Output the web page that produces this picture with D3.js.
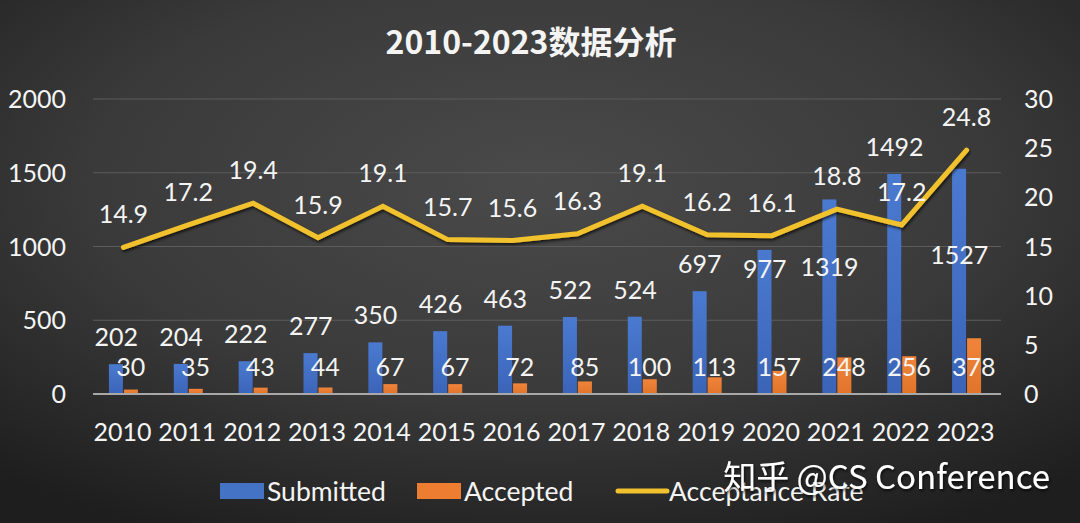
<!DOCTYPE html>
<html>
<meta charset="utf-8">
<style>
  body {
    margin: 0;
    padding: 0;
    background-color: #2b2b2b;
    overflow: hidden;
  }
  text {
    font-family: Lato, "Noto Sans", sans-serif;
    fill: #f4f4f4;
  }
  .title {
    font-family: "Noto Sans CJK SC", sans-serif;
    font-size: 32px;
    font-weight: 700;
  }
  .axis-label { font-size: 25px; }
  .data-label { font-size: 25px; }
  .legend-label { font-size: 26.5px; }
  .mark {
    font-family: "Noto Sans CJK SC", sans-serif;
    font-size: 33px;
    fill: #ffffff;
  }
</style>
<body>

<script src="https://d3js.org/d3.v7.min.js"></script>

<div id="chart"></div>

<script>

// chart data
var years = ["2010","2011","2012","2013","2014","2015","2016","2017","2018","2019","2020","2021","2022","2023"];
var submitted = [202, 204, 222, 277, 350, 426, 463, 522, 524, 697, 977, 1319, 1492, 1527];
var accepted = [30, 35, 43, 44, 67, 67, 72, 85, 100, 113, 157, 248, 256, 378];
var rate = [14.9, 17.2, 19.4, 15.9, 19.1, 15.7, 15.6, 16.3, 19.1, 16.2, 16.1, 18.8, 17.2, 24.8];
var leftTicks = [0, 500, 1000, 1500, 2000];
var rightTicks = [0, 5, 10, 15, 20, 25, 30];
var seriesNames = ["Submitted", "Accepted", "Acceptance Rate"];
var titleText = "2010-2023数据分析";

var W = 1080, H = 523;
var plot = {left: 93, right: 1001, top: 99, bottom: 394};

var svg = d3.select("#chart")
  .append("svg")
    .attr("width", W)
    .attr("height", H);

// background: dark grey with a lighter middle
var defs = svg.append("defs");
var bg = defs.append("radialGradient")
    .attr("id", "bg")
    .attr("cx", "0.5").attr("cy", "0.35").attr("r", "0.75");
bg.append("stop").attr("offset", "0%").attr("stop-color", "#4a4a4a");
bg.append("stop").attr("offset", "55%").attr("stop-color", "#3a3a3a");
bg.append("stop").attr("offset", "100%").attr("stop-color", "#1e1e1e");

var shadow = defs.append("filter").attr("id", "shadow")
    .attr("x", "-10%").attr("y", "-10%").attr("width", "120%").attr("height", "130%");
shadow.append("feDropShadow")
    .attr("dx", 1).attr("dy", 2).attr("stdDeviation", 1.5)
    .attr("flood-color", "#000").attr("flood-opacity", 0.7);

svg.append("rect")
    .attr("width", W).attr("height", H)
    .attr("fill", "url(#bg)");

// scales
var x = d3.scaleBand()
    .domain(years)
    .range([plot.left, plot.right]);

var y = d3.scaleLinear()
    .domain([0, 2000])
    .range([plot.bottom, plot.top]);

var yR = d3.scaleLinear()
    .domain([0, 30])
    .range([plot.bottom, plot.top]);

// two bars per year, 14px each, centred a little left of the band centre
var barW = 14.5;
var x1 = d3.scaleBand()
    .domain(["sub", "acc"])
    .range([x.bandwidth() / 2 - barW - 2, x.bandwidth() / 2 + barW - 2]);

// gridlines
svg.append("g")
  .selectAll("line")
  .data(leftTicks.slice(1))
  .enter().append("line")
    .attr("x1", plot.left).attr("x2", plot.right)
    .attr("y1", function(d) { return y(d); })
    .attr("y2", function(d) { return y(d); })
    .attr("stroke", "#5c5c5c")
    .attr("stroke-width", 1.2);

// left axis
svg.append("g")
  .selectAll("text")
  .data(leftTicks)
  .enter().append("text")
    .attr("class", "axis-label")
    .attr("x", 66)
    .attr("y", function(d) { return y(d) + 9; })
    .attr("text-anchor", "end")
    .text(function(d) { return d; });

// right axis
svg.append("g")
  .selectAll("text")
  .data(rightTicks)
  .enter().append("text")
    .attr("class", "axis-label")
    .attr("x", 1024)
    .attr("y", function(d) { return yR(d) + 9; })
    .attr("text-anchor", "start")
    .text(function(d) { return d; });

// x labels
svg.append("g")
  .selectAll("text")
  .data(years)
  .enter().append("text")
    .attr("class", "axis-label")
    .attr("x", function(d) { return x(d) + x.bandwidth() / 2 - 3; })
    .attr("y", 441)
    .attr("text-anchor", "middle")
    .text(function(d) { return d; });

// bars
var blueGrad = defs.append("linearGradient").attr("id", "blue")
    .attr("x1", 0).attr("y1", 0).attr("x2", 0).attr("y2", 1);
blueGrad.append("stop").attr("offset", "0%").attr("stop-color", "#4a7ad0");
blueGrad.append("stop").attr("offset", "100%").attr("stop-color", "#3b64b8");

var orangeGrad = defs.append("linearGradient").attr("id", "orange")
    .attr("x1", 0).attr("y1", 0).attr("x2", 0).attr("y2", 1);
orangeGrad.append("stop").attr("offset", "0%").attr("stop-color", "#f0843a");
orangeGrad.append("stop").attr("offset", "100%").attr("stop-color", "#e0742a");

var groups = svg.append("g")
  .selectAll("g")
  .data(years)
  .enter().append("g")
    .attr("transform", function(d) { return "translate(" + x(d) + ",0)"; });

groups.append("rect")
    .attr("x", x1("sub"))
    .attr("width", x1.bandwidth() - 0.5)
    .attr("y", function(d, i) { return y(submitted[i]); })
    .attr("height", function(d, i) { return y(0) - y(submitted[i]); })
    .attr("fill", "url(#blue)");

groups.append("rect")
    .attr("x", x1("acc") + 0.5)
    .attr("width", x1.bandwidth() - 0.5)
    .attr("y", function(d, i) { return y(accepted[i]); })
    .attr("height", function(d, i) { return y(0) - y(accepted[i]); })
    .attr("fill", "url(#orange)");

// zero baseline
svg.append("line")
    .attr("x1", plot.left).attr("x2", plot.right)
    .attr("y1", y(0)).attr("y2", y(0))
    .attr("stroke", "#a8a8a8")
    .attr("stroke-width", 2);

// submitted labels, a few pushed below the line by hand
var subDrop = {"2020": 46, "2021": 95, "2023": 113};
groups.append("text")
    .attr("class", "data-label")
    .attr("x", x1("sub") + x1.bandwidth() / 2)
    .attr("y", function(d, i) { return y(submitted[i]) - 18 + (subDrop[d] || 0); })
    .attr("text-anchor", "middle")
    .text(function(d, i) { return submitted[i]; });

// accepted labels sit at a fixed height
groups.append("text")
    .attr("class", "data-label")
    .attr("x", x1("acc") + x1.bandwidth() / 2)
    .attr("y", y(0) - 18)
    .attr("text-anchor", "middle")
    .text(function(d, i) { return accepted[i]; });

// acceptance rate line
var line = d3.line()
    .x(function(d, i) { return x(years[i]) + x.bandwidth() / 2 - 2; })
    .y(function(d) { return yR(d); });

svg.append("path")
    .datum(rate)
    .attr("d", line)
    .attr("fill", "none")
    .attr("stroke", "#f2c12e")
    .attr("stroke-width", 5)
    .attr("stroke-linejoin", "miter")
    .attr("stroke-linecap", "round")
    .attr("filter", "url(#shadow)");

svg.append("g")
  .selectAll("text")
  .data(rate)
  .enter().append("text")
    .attr("class", "data-label")
    .attr("x", function(d, i) { return x(years[i]) + x.bandwidth() / 2 - 2; })
    .attr("y", function(d) { return yR(d) - 24; })
    .attr("text-anchor", "middle")
    .text(function(d) { return d3.format(".1f")(d); });

// title
svg.append("text")
    .attr("class", "title")
    .attr("x", 531)
    .attr("y", 54)
    .attr("text-anchor", "middle")
    .text(titleText);

// legend
var legendX = [220, 417, 618];
var legend = svg.append("g")
  .selectAll("g")
  .data(seriesNames)
  .enter().append("g")
    .attr("transform", function(d, i) { return "translate(" + legendX[i] + ",491)"; });

legend.filter(function(d, i) { return i < 2; })
  .append("rect")
    .attr("x", 0).attr("y", -8)
    .attr("width", 44).attr("height", 16)
    .attr("fill", function(d, i) { return i == 0 ? "#4472c4" : "#ed7d31"; });

legend.filter(function(d, i) { return i == 2; })
  .append("line")
    .attr("x1", 0).attr("x2", 49)
    .attr("y1", 0).attr("y2", 0)
    .attr("stroke", "#f2c12e")
    .attr("stroke-width", 5)
    .attr("stroke-linecap", "round");

legend.append("text")
    .attr("class", "legend-label")
    .attr("x", function(d, i) { return i == 2 ? 51 : 47; })
    .attr("y", 10)
    .text(function(d) { return d; });

// watermark
svg.append("text")
    .attr("class", "mark")
    .attr("x", 1050)
    .attr("y", 489)
    .attr("text-anchor", "end")
    .attr("filter", "url(#shadow)")
    .text("知乎 @CS Conference");

</script>
</body>
</html>
